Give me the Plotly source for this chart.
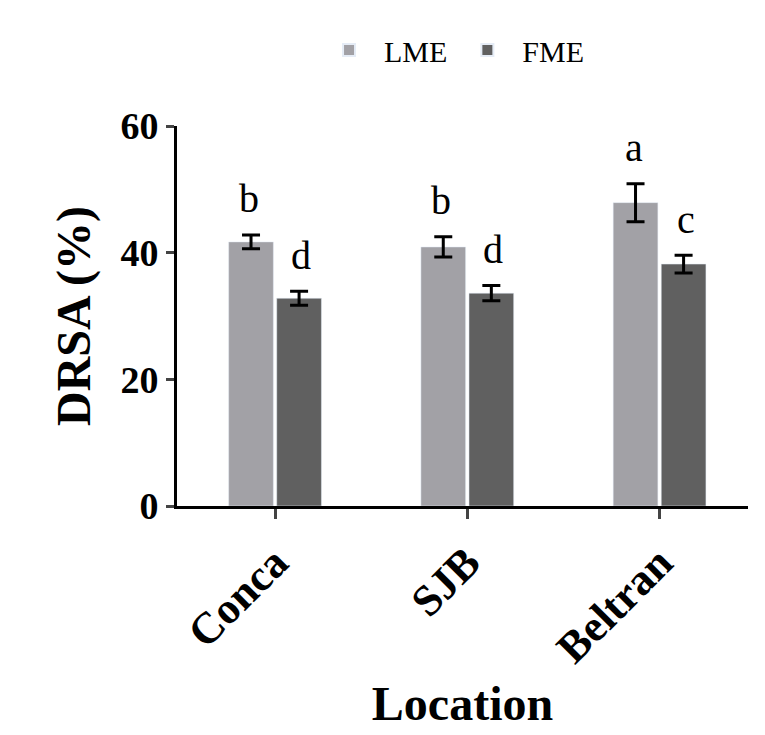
import plotly.graph_objs as go

locations = ['Conca', 'SJB', 'Beltran']
lme = [41.7, 40.9, 47.9]
lme_err = [1.1, 1.6, 3.0]
fme = [32.8, 33.6, 38.2]
fme_err = [1.1, 1.2, 1.4]
lme_letters = ['b', 'b', 'a']
fme_letters = ['d', 'd', 'c']

serif = 'Liberation Serif'
fig = go.Figure()
fig.add_trace(go.Bar(x=locations, y=lme, name='LME', marker_color='#a2a1a6',
                     error_y=dict(type='data', array=lme_err, color='black', thickness=3, width=9)))
fig.add_trace(go.Bar(x=locations, y=fme, name='FME', marker_color='#606060',
                     error_y=dict(type='data', array=fme_err, color='black', thickness=3, width=9)))

# significance letters above each bar
for i, loc in enumerate(locations):
    fig.add_annotation(x=i - 0.135, y=lme[i] + lme_err[i], text=lme_letters[i], showarrow=False,
                       yshift=36, font=dict(family=serif, size=40, color='black'))
    fig.add_annotation(x=i + 0.135, y=fme[i] + fme_err[i], text=fme_letters[i], showarrow=False,
                       yshift=36, font=dict(family=serif, size=40, color='black'))

fig.update_layout(width=765, height=735, plot_bgcolor='white', paper_bgcolor='white',
                  barmode='group', bargap=0.5, bargroupgap=0.07,
                  margin=dict(l=169, r=25, t=118, b=237, autoexpand=False),
                  font=dict(family=serif, color='black'),
                  legend=dict(orientation='h', x=0.24, y=1.2, xanchor='left', yanchor='middle',
                              font=dict(family=serif, size=30), itemwidth=60, itemsizing='constant',
                              traceorder='normal'))
fig.update_xaxes(range=[-0.51, 2.46], showline=True, linewidth=3, linecolor='black',
                 ticks='outside', ticklen=10, tickwidth=3, tickangle=-45,
                 tickfont=dict(family=serif, size=44, color='black'),
                 title=dict(text='<b>Location</b>', font=dict(family=serif, size=48)))
fig.update_yaxes(range=[0, 60], tickvals=[0, 20, 40, 60], ticktext=['<b>0</b>', '<b>20</b>', '<b>40</b>', '<b>60</b>'],
                 showline=True, linewidth=3, linecolor='black', showgrid=False, zeroline=False,
                 ticks='outside', ticklen=8, tickwidth=3,
                 tickfont=dict(family=serif, size=38, color='black'),
                 title=dict(text='<b>DRSA (%)</b>', font=dict(family=serif, size=48), standoff=15))
fig.update_xaxes(ticktext=['<b>' + l + '</b>' for l in locations], tickvals=locations)

fig.write_html("out.html")
